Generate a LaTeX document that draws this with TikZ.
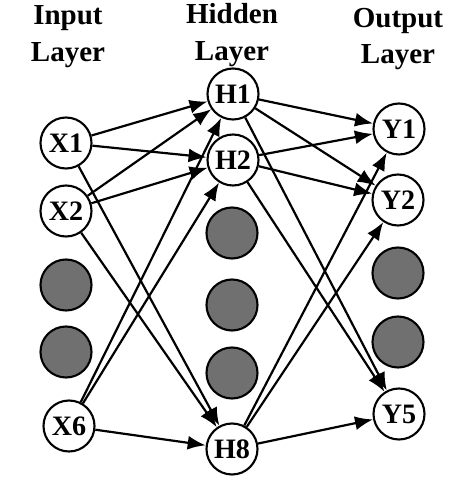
\documentclass[tikz,border=0pt]{standalone}
\usepackage{fontspec}
\setmainfont{Liberation Serif}
\usepackage{xcolor}
\usepackage{tikz}
\usetikzlibrary{arrows.meta}
\definecolor{ink}{HTML}{000000}
\definecolor{unit}{HTML}{707070}
\tikzset{
  neuron/.style={circle, draw=ink, line width=1.2pt, fill=white, minimum size=1.02cm, inner sep=0pt, font=\bfseries\fontsize{16}{18}\selectfont},
  hidden/.style={circle, draw=ink, line width=1.2pt, fill=unit, minimum size=1.02cm, inner sep=0pt},
  head/.style={align=center, font=\bfseries\fontsize{16.5}{19}\selectfont},
  wire/.style={line width=1.25pt, draw=ink, -{Latex[length=0.36cm,width=0.28cm]}},
}

\begin{document}
\begin{tikzpicture}
  \useasboundingbox (0,0) rectangle (9.48,9.62);

  % layer titles
  \node[head] (tin)  at (1.36,8.88) {Input\\[2pt]Layer};
  \node[head] (thid) at (4.64,8.92) {Hidden\\[2pt]Layer};
  \node[head] (tout) at (7.96,8.84) {Output\\[2pt]Layer};

  % input layer
  \node[neuron] (X1) at (1.32,6.76) {X1};
  \node[neuron] (X2) at (1.32,5.40) {X2};
  \node[hidden] (gi1) at (1.32,3.92) {};
  \node[hidden] (gi2) at (1.32,2.58) {};
  \node[neuron] (X6) at (1.38,1.10) {X6};

  % hidden layer
  \node[neuron] (H1) at (4.66,7.74) {H1};
  \node[neuron] (H2) at (4.66,6.42) {H2};
  \node[hidden] (gh1) at (4.64,4.96) {};
  \node[hidden] (gh2) at (4.64,3.52) {};
  \node[hidden] (gh3) at (4.64,2.16) {};
  \node[neuron] (H8) at (4.64,0.64) {H8};

  % output layer
  \node[neuron] (Y1) at (7.98,7.04) {Y1};
  \node[neuron] (Y2) at (7.96,5.62) {Y2};
  \node[hidden] (go1) at (7.96,4.16) {};
  \node[hidden] (go2) at (7.96,2.78) {};
  \node[neuron] (Y5) at (7.98,1.34) {Y5};

  % input -> hidden
  \draw[wire] (X1)--(H1);
  \draw[wire] (X1)--(H2);
  \draw[wire] (X1)--(H8);
  \draw[wire] (X2)--(H1);
  \draw[wire] (X2)--(H2);
  \draw[wire] (X2)--(H8);
  \draw[wire] (X6)--(H1);
  \draw[wire] (X6)--(H2);
  \draw[wire] (X6)--(H8);

  % hidden -> output
  \draw[wire] (H1)--(Y1);
  \draw[wire] (H1)--(Y2);
  \draw[wire] (H1)--(Y5);
  \draw[wire] (H2)--(Y1);
  \draw[wire] (H2)--(Y2);
  \draw[wire] (H2)--(Y5);
  \draw[wire] (H8)--(Y1);
  \draw[wire] (H8)--(Y2);
  \draw[wire] (H8)--(Y5);
\end{tikzpicture}
\end{document}
